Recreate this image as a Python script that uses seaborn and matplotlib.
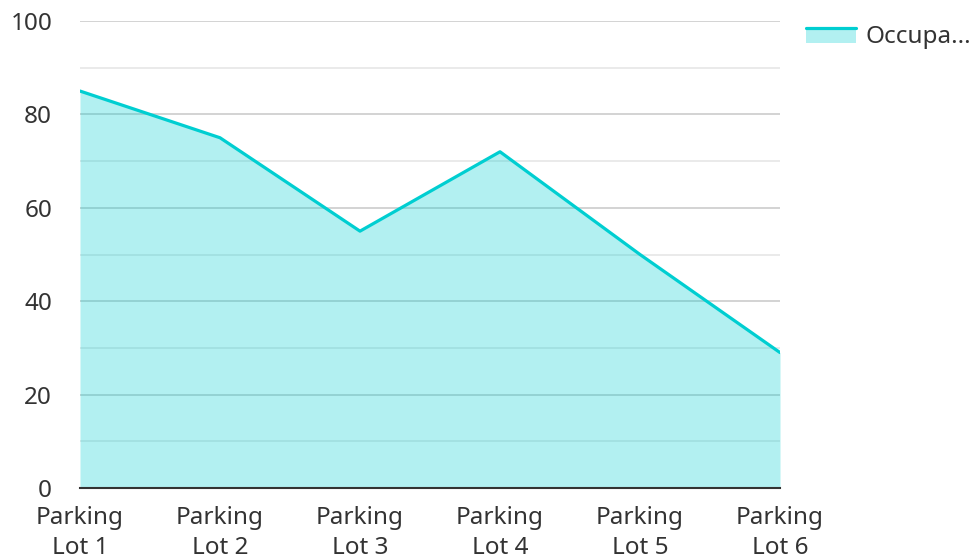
import matplotlib
matplotlib.use("Agg")
import matplotlib.pyplot as plt
import seaborn as sns
import pandas as pd
from matplotlib.patches import Rectangle
from matplotlib.lines import Line2D

categories = ["Parking\nLot 1", "Parking\nLot 2", "Parking\nLot 3", "Parking\nLot 4", "Parking\nLot 5", "Parking\nLot 6"]
occupancy = [85, 75, 55, 72, 50, 29]
series_name = "Occupa..."

df = pd.DataFrame({"x": range(len(categories)), "y": occupancy})

sns.set_theme(style="white")
plt.rcParams['font.family'] = ['Noto Sans', 'DejaVu Sans']

fig = plt.figure(figsize=(9.75, 5.6), dpi=100)
ax = fig.add_axes([80/975, 1-488/560, 700/975, 467/560])

line_color = "#00CED1"
fill_color = "#00CED1"
FS = 17.5

ax.fill_between(df["x"], df["y"], 0, color=fill_color, alpha=0.3, linewidth=0, zorder=3)
sns.lineplot(data=df, x="x", y="y", ax=ax, color=line_color, linewidth=2.3, zorder=4)

ax.set_xlim(0, len(categories)-1)
ax.set_ylim(0, 100)
ax.set_yticks(range(0, 101, 20))
ax.set_yticks(range(10, 100, 20), minor=True)
ax.set_xticks(range(len(categories)))
ax.set_xticklabels(categories, linespacing=1.35)
ax.grid(which="major", axis="y", color="#cccccc", linewidth=1.2, zorder=1)
ax.grid(which="minor", axis="y", color="#e6e6e6", linewidth=1.2, zorder=1)
ax.set_axisbelow(True)
for s in ["left", "right", "top"]:
    ax.spines[s].set_visible(False)
ax.spines["bottom"].set_color("#333333")
ax.spines["bottom"].set_linewidth(1.5)
ax.spines["bottom"].set_zorder(5)
ax.tick_params(axis="both", which="both", length=0, labelsize=FS, labelcolor="#333333")
ax.tick_params(axis="y", pad=20)
ax.tick_params(axis="x", pad=13)
ax.set_xlabel("")
ax.set_ylabel("")
if ax.get_legend():
    ax.get_legend().remove()


class AreaHandler:
    def legend_artist(self, legend, orig_handle, fontsize, handlebox):
        x0, y0 = handlebox.xdescent, handlebox.ydescent
        w, h = handlebox.width, handlebox.height
        top = y0 + h * 0.85
        rect = Rectangle((x0, y0), w, top - y0, facecolor=fill_color, alpha=0.3,
                         edgecolor="none", transform=handlebox.get_transform())
        ln = Line2D([x0, x0 + w], [top, top], color=line_color,
                    linewidth=2.3, transform=handlebox.get_transform())
        handlebox.add_artist(rect)
        handlebox.add_artist(ln)
        return rect


proxy = Rectangle((0, 0), 1, 1)
leg = fig.legend([proxy], [series_name], handler_map={Rectangle: AreaHandler()},
                 loc="upper left", bbox_to_anchor=(784/975, 1-3/560), frameon=False,
                 fontsize=FS, handlelength=2.05, handletextpad=0.4)
for t in leg.get_texts():
    t.set_color("#333333")

fig.savefig("out.png", dpi=100)
